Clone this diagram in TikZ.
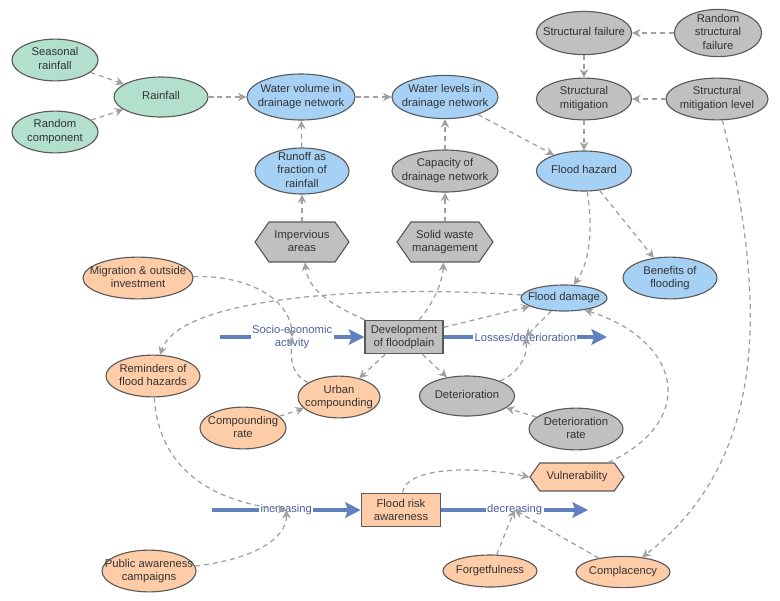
\documentclass[tikz,border=0pt]{standalone}
\usepackage{fontspec}
\setmainfont{Liberation Sans}
\usetikzlibrary{shapes.geometric, shapes.symbols, arrows.meta}

\definecolor{greenfill}{HTML}{B2E0CC}
\definecolor{bluefill}{HTML}{A6D1F5}
\definecolor{grayfill}{HTML}{C0C0C0}
\definecolor{orangefill}{HTML}{FFCCA8}
\definecolor{bordergray}{HTML}{5A5A5A}
\definecolor{linkgray}{HTML}{A0A0A0}
\definecolor{flowblue}{HTML}{6080C0}
\definecolor{flowtext}{HTML}{4A60A8}
\definecolor{textgray}{HTML}{333333}

% text of zero width, so the shape keeps its set size
\newcommand{\vtext}[1]{\hbox to 0pt{\hss\begin{tabular}{@{}c@{}}#1\end{tabular}\hss}}

\begin{document}
\begin{tikzpicture}[x=0.025cm, y=-0.025cm,
    every node/.style={font=\fontsize{8}{9.5}\selectfont, text=textgray},
    var/.style={ellipse, draw=bordergray, line width=0.8pt, minimum width=2.35cm, minimum height=1cm, inner sep=1pt},
    climate/.style={var, fill=greenfill},
    hydro/.style={var, fill=bluefill},
    infra/.style={var, fill=grayfill},
    social/.style={var, fill=orangefill},
    policy/.style={signal, signal to=east and west, signal pointer angle=110, draw=bordergray, line width=0.8pt, fill=grayfill,
        minimum width=2.35cm, minimum height=1cm, inner sep=1pt},
    stock/.style={rectangle, draw=bordergray, line width=1pt, minimum width=1.95cm, minimum height=0.8cm, align=center},
    link/.style={-{Stealth[length=6pt, width=6pt]}, draw=linkgray, dash pattern=on 3.5pt off 2.8pt, line width=0.9pt},
    flow/.style={-{Stealth[length=11pt, width=11pt, inset=2pt]}, draw=flowblue, line width=2.4pt},
    flowlabel/.style={fill=white, text=flowtext, inner sep=1pt, align=center}
]
\useasboundingbox (0,0) rectangle (780,600);

% Rainfall
\node[climate, minimum width=2.15cm] (seasonal) at (55,60) {\vtext{Seasonal\\rainfall}};
\node[climate, minimum width=2.15cm] (randcomp) at (55,132) {\vtext{Random\\component}};
\node[climate] (rainfall) at (161,97) {\vtext{Rainfall}};

% Drainage network
\node[hydro, minimum width=2.7cm, minimum height=1.15cm] (watervol) at (301,97) {\vtext{Water volume in\\drainage network}};
\node[hydro, minimum height=1.15cm, inner ysep=-4.5pt] (runoff) at (302,171) {\vtext{Runoff as\\fraction of\\rainfall}};
\node[policy] (impervious) at (302,242) {\vtext{Impervious\\areas}};
\node[hydro, minimum width=2.65cm, minimum height=1.08cm] (waterlvl) at (445,97) {\vtext{Water levels in\\drainage network}};
\node[infra, minimum width=2.65cm, minimum height=1.05cm] (capacity) at (445,171) {\vtext{Capacity of\\drainage network}};
\node[policy, minimum width=2.4cm] (solidwaste) at (445,242) {\vtext{Solid waste\\management}};

% Structural measures
\node[infra, minimum width=2.38cm, minimum height=1.08cm] (strfail) at (584,33) {\vtext{Structural failure}};
\node[infra, minimum width=2.18cm, minimum height=1.18cm, inner ysep=-4pt] (randfail) at (718,33) {\vtext{Random\\structural\\failure}};
\node[infra, minimum width=2.38cm] (strmit) at (584,99) {\vtext{Structural\\mitigation}};
\node[infra, minimum width=2.55cm] (mitlevel) at (717,99) {\vtext{Structural\\mitigation level}};
\node[hydro, minimum width=2.38cm] (hazard) at (584,171) {\vtext{Flood hazard}};
\node[hydro] (benefits) at (670,278) {\vtext{Benefits of\\flooding}};
\node[hydro, minimum width=2.15cm, minimum height=0.65cm] (damage) at (564,298) {\vtext{Flood damage}};

% Floodplain development
\node[stock, fill=grayfill] (dev) at (404,337) {Development\\of floodplain};
\node[social, minimum width=2.75cm] (migration) at (138,278) {\vtext{Migration \& outside\\investment}};
\node[social, minimum height=0.98cm] (reminders) at (153,376) {\vtext{Reminders of\\flood hazards}};
\node[social, minimum width=2.05cm] (urban) at (339,397) {\vtext{Urban\\compounding}};
\node[social, minimum width=2.15cm, minimum height=0.93cm] (comprate) at (243,428) {\vtext{Compounding\\rate}};
\node[infra, minimum width=2.38cm] (deterior) at (467,396) {\vtext{Deterioration}};
\node[infra] (detrate) at (576,429) {\vtext{Deterioration\\rate}};

% Awareness
\node[policy, fill=orangefill, minimum height=0.7cm] (vulner) at (577,477) {\vtext{Vulnerability}};
\node[stock, fill=orangefill, minimum width=1.98cm, minimum height=0.83cm] (awareness) at (401,510) {Flood risk\\awareness};
\node[social] (campaigns) at (149,571) {\vtext{Public awareness\\campaigns}};
\node[social, minimum height=0.8cm] (forget) at (490,571) {\vtext{Forgetfulness}};
\node[social, minimum height=0.78cm] (complacency) at (623,572) {\vtext{Complacency}};

% Flows
\coordinate (socsrc) at (220,337);
\coordinate (losssnk) at (607,337);
\coordinate (incsrc) at (212,510);
\coordinate (decsnk) at (588,510);
\draw[flow] (socsrc) -- node[flowlabel] (socio) {Socio-economic\\activity} (dev);
\draw[flow] (dev) -- node[flowlabel] (loss) {Losses/deterioration} (losssnk);
\draw[flow] (incsrc) -- node[flowlabel] (incr) {increasing} (awareness);
\draw[flow] (awareness) -- node[flowlabel] (decr) {decreasing} (decsnk);

% Links
\draw[link] (seasonal) -- (rainfall);
\draw[link] (randcomp) -- (rainfall);
\draw[link] (rainfall) -- (watervol);
\draw[link] (watervol) -- (waterlvl);
\draw[link] (runoff) -- (watervol);
\draw[link] (impervious) -- (runoff);
\draw[link] (capacity) -- (waterlvl);
\draw[link] (solidwaste) -- (capacity);
\draw[link] (waterlvl) -- (hazard);
\draw[link] (randfail) -- (strfail);
\draw[link] (strfail) -- (strmit);
\draw[link] (mitlevel) -- (strmit);
\draw[link] (strmit) -- (hazard);
\draw[link] (hazard) .. controls (594,235) and (588,265) .. (damage);
\draw[link] (hazard) -- (benefits);
\draw[link] (mitlevel) .. controls (775,330) and (755,470) .. (complacency);
\draw[link] (dev) .. controls (320,300) and (308,285) .. (impervious);
\draw[link] (dev) .. controls (432,305) and (442,285) .. (solidwaste);
\draw[link] (dev) -- (damage);
\draw[link] (damage) .. controls (380,285) and (180,295) .. (reminders);
\draw[link] (migration) .. controls (250,275) and (290,300) .. (socio.center);
\draw[link] (urban) .. controls (292,375) and (290,360) .. (socio.center);
\draw[link] (comprate) -- (urban);
\draw[link] (dev) -- (urban);
\draw[link] (dev) -- (deterior);
\draw[link] (deterior) .. controls (520,372) and (528,355) .. (loss.center);
\draw[link] (damage) -- (loss.center);
\draw[link] (detrate) -- (deterior);
\draw[link] (vulner) .. controls (700,420) and (680,340) .. (damage.-30);
\draw[link] (awareness) .. controls (405,468) and (470,465) .. (vulner.west);
\draw[link] (reminders) .. controls (158,460) and (200,500) .. (incr.center);
\draw[link] (campaigns) .. controls (250,560) and (287,540) .. (incr.center);
\draw[link] (forget) -- (decr.center);
\draw[link] (complacency) -- (decr.center);

\end{tikzpicture}
\end{document}
